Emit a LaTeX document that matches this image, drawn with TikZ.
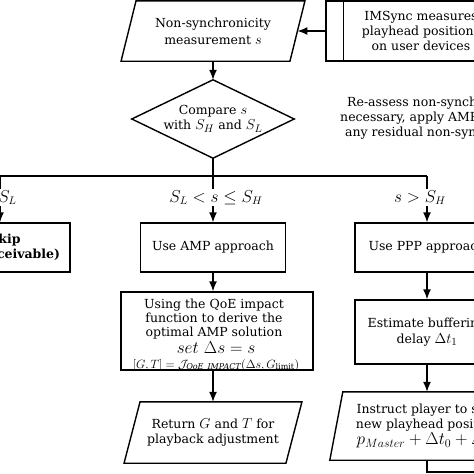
\documentclass[tikz,border=0pt]{standalone}
\usepackage{amsmath}
\usepackage{fontspec}
\setmainfont{DejaVu Serif}
\usetikzlibrary{arrows.meta,calc}
\newcommand\drawpara[2]{\draw[flow] ($(#1.south west)+(-#2,0)$) -- ($(#1.north west)+(#2,0)$) -- ($(#1.north east)+(#2,0)$) -- ($(#1.south east)+(-#2,0)$) -- cycle;}
\newcommand\mm[1]{{\fontsize{15}{15}\selectfont$#1$}}
\begin{document}
\begin{tikzpicture}[x=1pt,y=-1pt,
  every node/.style={font=\fontsize{12.5}{15}\selectfont, inner sep=0pt, align=center},
  flow/.style={line width=1.4pt},
  arr/.style={flow, -{Latex[length=10pt,width=8pt]}},
  rbox/.style={draw, line width=1.4pt},
  lab/.style={fill=white, font=\fontsize{16}{18}\selectfont, inner sep=1pt}]
\useasboundingbox (0,0) rectangle (474,474);
\clip (0,0) rectangle (474,474);

% top row
\node (meas) [minimum width=168.5pt, minimum height=60pt, font=\fontsize{12.5}{17}\selectfont] at (213,31) {Non-synchronicity\\measurement \mm{s}};
\drawpara{meas}{7.5}
\node[rbox, minimum width=190pt, minimum height=60pt] (ims) at (421,31) {IMSync measures\\playhead positions\\on user devices};
\draw[flow] ($(ims.north west)+(18,0)$) -- ($(ims.south west)+(18,0)$);
\draw[flow] ($(ims.north east)+(-18,0)$) -- ($(ims.south east)+(-18,0)$);

% decision
\node (cmp) [minimum width=162pt, minimum height=78pt] at (213,119) {Compare \mm{s}\\with \mm{S_H} and \mm{S_L}};
\draw[flow] (cmp.north) -- (cmp.east) -- (cmp.south) -- (cmp.west) -- cycle;

\node[anchor=north west, align=left] (note) at (340,96.5) {\hspace*{7pt}Re-assess non-synchronicity\\necessary, apply AMP\\\hspace*{5pt}any residual non-synchronicity};

% branches
\coordinate (br) at (213,176);
\coordinate (bl) at (0,176);
\coordinate (brr) at (427,176);

\node[rbox, minimum width=130pt, minimum height=49pt, font=\bfseries\fontsize{12.5}{14.5}\selectfont] (skip) at (5,247.5) {Skip\\(imperceivable)};
\node[rbox, minimum width=145pt, minimum height=49pt] (amp) at (213,247.5) {Use AMP approach};
\node[rbox, minimum width=144pt, minimum height=49pt] (ppp) at (427,247.5) {Use PPP approach};

% AMP branch
\node[rbox, minimum width=192pt, minimum height=78pt] (qoe) at (217,331) {};
\node[anchor=north, font=\fontsize{12.5}{14}\selectfont] (qoetxt) at (214,299) {Using the QoE impact\\function to derive the\\optimal AMP solution};
\node[anchor=north, font=\fontsize{12.5}{15}\selectfont] (qoemath) at (216,341) {{\fontsize{16.5}{16.5}\selectfont$set\ \Delta s = s$}\\{\fontsize{12}{12}\selectfont$[G,T] = \mathcal{J}_{\text{\itshape QoE\_IMPACT}}(\Delta s, G_{\mathrm{limit}})$}};

\node (ret) [minimum width=161.5pt, minimum height=61pt, font=\fontsize{12.5}{14.5}\selectfont] at (213,432.5) {Return \mm{G} and \mm{T} for\\playback adjustment};
\drawpara{ret}{8}

% PPP branch
\node[rbox, minimum width=144pt, minimum height=64pt, font=\fontsize{12.5}{16}\selectfont] (est) at (427,332) {Estimate buffering\\delay \mm{\Delta t_1}};
\node (ins) [minimum width=181pt, minimum height=68pt, font=\fontsize{12.5}{14.5}\selectfont] at (427,426) {Instruct player to skip\\new playhead position\\[1pt]{\fontsize{17}{17}\selectfont$p_{Master}+\Delta t_0+\Delta t_1$}};
\drawpara{ins}{6.5}
\coordinate (out) at (490,472);

% connectors
\draw[arr] (ims.west) -- (meas.east);
\draw[arr] (meas.south) -- (cmp.north);
\draw[flow] (cmp.south) -- (br);
\draw[flow] (bl) -- (brr);
\draw[arr] (bl) -- (bl |- skip.north);
\draw[arr] (br) -- (amp.north);
\draw[arr] (brr) -- (ppp.north);
\draw[arr] (amp.south) -- (amp.south |- qoe.north);
\draw[arr] (qoe.south -| ret.north) -- (ret.north);
\draw[arr] (ppp.south) -- (est.north);
\draw[arr] (est.south) -- (ins.north);
\draw[flow] (ins.south) |- (out);

% branch labels
\node[lab, anchor=base] (l1) at (-8,202) {$s \le S_L$};
\node[lab, anchor=base] (l2) at (216,202) {$S_L < s \le S_H$};
\node[lab, anchor=base] (l3) at (420,202) {$s > S_H$};
\end{tikzpicture}
\end{document}
